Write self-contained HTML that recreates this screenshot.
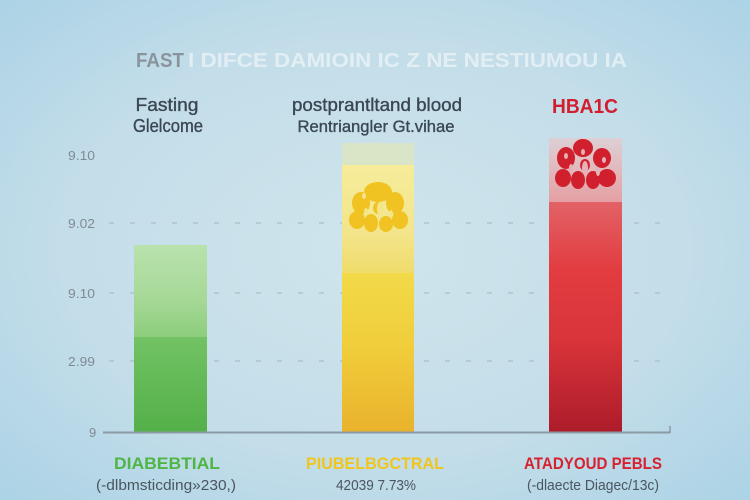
<!DOCTYPE html>
<html><head><meta charset="utf-8"><style>
html,body{margin:0;padding:0;width:750px;height:500px;overflow:hidden}
svg{display:block}
</style></head><body>
<svg width="750" height="500" viewBox="0 0 750 500" xmlns="http://www.w3.org/2000/svg" font-family="Liberation Sans, sans-serif">
<defs>
<radialGradient id="bg" cx="50%" cy="50%" r="70%">
<stop offset="0" stop-color="#d0e5ec"/>
<stop offset="0.6" stop-color="#c3dde9"/>
<stop offset="1" stop-color="#acd3e6"/>
</radialGradient>
<linearGradient id="gTop" x1="0" y1="0" x2="0" y2="1">
<stop offset="0" stop-color="#b9e2ad"/><stop offset="0.6" stop-color="#a6d897"/><stop offset="1" stop-color="#8ccd7c"/>
</linearGradient>
<linearGradient id="gBot" x1="0" y1="0" x2="0" y2="1">
<stop offset="0" stop-color="#72c264"/><stop offset="1" stop-color="#54b049"/>
</linearGradient>
<linearGradient id="yMid" x1="0" y1="0" x2="0" y2="1">
<stop offset="0" stop-color="#f6ec9a"/><stop offset="0.6" stop-color="#f3e58c"/><stop offset="1" stop-color="#efdc6c"/>
</linearGradient>
<linearGradient id="yBot" x1="0" y1="0" x2="0" y2="1">
<stop offset="0" stop-color="#f2da48"/><stop offset="0.5" stop-color="#f0cc3a"/><stop offset="1" stop-color="#e9b22c"/>
</linearGradient>
<linearGradient id="rTop" x1="0" y1="0" x2="0" y2="1">
<stop offset="0" stop-color="#dcd0d4"/><stop offset="0.5" stop-color="#e2b8bc"/><stop offset="1" stop-color="#e4a0a4"/>
</linearGradient>
<linearGradient id="rBot" x1="0" y1="0" x2="0" y2="1">
<stop offset="0" stop-color="#e26266"/><stop offset="0.3" stop-color="#e23c40"/><stop offset="0.6" stop-color="#d8343a"/><stop offset="1" stop-color="#ad1c2a"/>
</linearGradient>
</defs>
<rect width="750" height="500" fill="url(#bg)"/>

<!-- title -->
<text x="136" y="67" font-size="20" font-weight="bold" fill="#8a949b" textLength="48" lengthAdjust="spacingAndGlyphs">FAST</text>
<text x="188" y="67" font-size="20" font-weight="bold" fill="#eaf3f6" fill-opacity="0.8" textLength="439" lengthAdjust="spacingAndGlyphs">I DIFCE DAMIOIN IC Z NE NESTIUMOU IA</text>

<!-- category headers -->
<g fill="#3a4753" stroke="#3a4753" stroke-width="0.35">
<text x="167" y="111" font-size="18" text-anchor="middle" textLength="63" lengthAdjust="spacingAndGlyphs">Fasting</text>
<text x="168" y="132" font-size="18" text-anchor="middle" textLength="70" lengthAdjust="spacingAndGlyphs">Glelcome</text>
<text x="377" y="111" font-size="18" text-anchor="middle" textLength="170" lengthAdjust="spacingAndGlyphs">postprantltand blood</text>
<text x="376" y="132" font-size="17" text-anchor="middle" textLength="157" lengthAdjust="spacingAndGlyphs">Rentriangler Gt.vihae</text>
</g>
<text x="585" y="113" font-size="20" font-weight="bold" fill="#d21f2f" text-anchor="middle" textLength="66" lengthAdjust="spacingAndGlyphs">HBA1C</text>

<!-- y labels -->
<g font-size="13" fill="#7f8b94">
<text x="68" y="160" textLength="27" lengthAdjust="spacingAndGlyphs">9.10</text>
<text x="68" y="228" textLength="27" lengthAdjust="spacingAndGlyphs">9.02</text>
<text x="68" y="298" textLength="27" lengthAdjust="spacingAndGlyphs">9.10</text>
<text x="68" y="366" textLength="27" lengthAdjust="spacingAndGlyphs">2.99</text>
<text x="89" y="437">9</text>
</g>

<!-- gridlines -->
<g stroke="#a3b4bd" stroke-width="1" stroke-dasharray="5 16">
<line x1="109" y1="223" x2="670" y2="223"/>
<line x1="109" y1="293" x2="670" y2="293"/>
<line x1="109" y1="361" x2="670" y2="361"/>
</g>

<!-- green bar -->
<rect x="134" y="245" width="73" height="92" fill="url(#gTop)"/>
<rect x="134" y="337" width="73" height="95" fill="url(#gBot)"/>

<!-- yellow bar -->
<rect x="342" y="143" width="72" height="22" fill="#dce6c4" opacity="0.9"/>
<rect x="342" y="165" width="72" height="108" fill="url(#yMid)"/>
<rect x="342" y="273" width="72" height="159" fill="url(#yBot)"/>
<g fill="#f0c222">
<ellipse cx="378" cy="192" rx="14" ry="10"/>
<ellipse cx="361" cy="203" rx="9" ry="11"/>
<ellipse cx="395" cy="203" rx="9" ry="11"/>
<ellipse cx="357" cy="220" rx="8" ry="9"/>
<ellipse cx="400" cy="220" rx="8" ry="9"/>
<ellipse cx="371" cy="223" rx="7" ry="9"/>
<ellipse cx="386" cy="224" rx="7" ry="8"/>
<ellipse cx="378" cy="208" rx="5" ry="6"/>
</g>
<g fill="#f4e48a">
<ellipse cx="380" cy="209" rx="3" ry="7"/>
<ellipse cx="366" cy="212" rx="2" ry="4"/>
<ellipse cx="391" cy="214" rx="2" ry="4"/>
<ellipse cx="364" cy="196" rx="2" ry="3"/>
</g>

<!-- red bar -->
<rect x="549" y="138" width="73" height="64" fill="url(#rTop)"/>
<rect x="549" y="202" width="73" height="230" fill="url(#rBot)"/>
<g fill="#d0202e">
<ellipse cx="583" cy="148" rx="10" ry="9"/>
<ellipse cx="566" cy="158" rx="9" ry="11"/>
<ellipse cx="602" cy="158" rx="9" ry="10"/>
<ellipse cx="563" cy="178" rx="8" ry="9"/>
<ellipse cx="607" cy="178" rx="9" ry="9"/>
<ellipse cx="578" cy="180" rx="7" ry="9"/>
<ellipse cx="593" cy="180" rx="7" ry="9"/>
<ellipse cx="585" cy="165" rx="5" ry="6"/>
</g>
<g fill="#e7b2b6">
<ellipse cx="585" cy="168" rx="3" ry="7"/>
<ellipse cx="571" cy="168" rx="2" ry="4"/>
<ellipse cx="598" cy="172" rx="2" ry="4"/>
<ellipse cx="583" cy="152" rx="2" ry="3"/>
<ellipse cx="566" cy="156" rx="2" ry="3"/>
<ellipse cx="604" cy="160" rx="2" ry="3"/>
</g>

<!-- axis -->
<line x1="103" y1="432.5" x2="670" y2="432.5" stroke="#8b9ba6" stroke-width="2"/>
<line x1="670" y1="426" x2="670" y2="433" stroke="#8b9ba6" stroke-width="1.5"/>

<!-- bottom labels -->
<text x="167" y="469" font-size="17" font-weight="bold" fill="#4fb544" text-anchor="middle" textLength="106" lengthAdjust="spacingAndGlyphs">DIABEBTIAL</text>
<text x="166" y="490" font-size="15" fill="#4a5661" text-anchor="middle" textLength="140" lengthAdjust="spacingAndGlyphs">(-dlbmsticding»230,)</text>
<text x="375" y="469" font-size="17" font-weight="bold" fill="#f0c51c" text-anchor="middle" textLength="138" lengthAdjust="spacingAndGlyphs">PIUBELBGCTRAL</text>
<text x="376" y="490" font-size="15" fill="#4a5661" text-anchor="middle" textLength="80" lengthAdjust="spacingAndGlyphs">42039 7.73%</text>
<text x="593" y="469" font-size="17" font-weight="bold" fill="#d8212f" text-anchor="middle" textLength="138" lengthAdjust="spacingAndGlyphs">ATADYOUD PEBLS</text>
<text x="593" y="490" font-size="15" fill="#4a5661" text-anchor="middle" textLength="132" lengthAdjust="spacingAndGlyphs">(-dlaecte Diagec/13c)</text>
</svg>
</body></html>
